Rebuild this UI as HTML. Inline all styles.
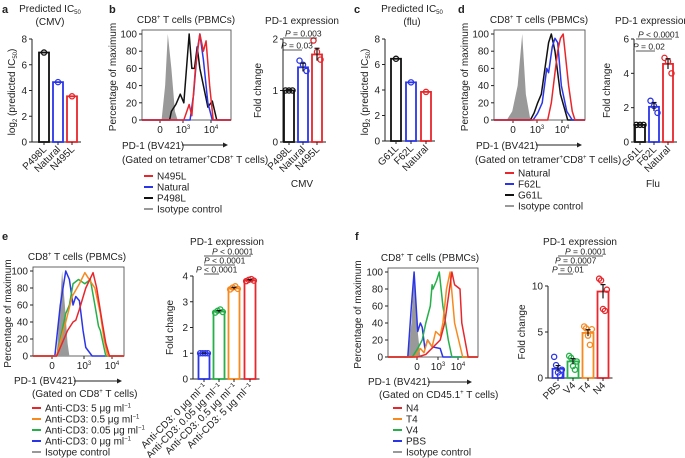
<!DOCTYPE html>
<html><head><meta charset="utf-8">
<style>
html,body{margin:0;padding:0;background:#fff;}
svg{display:block;font-family:"Liberation Sans",Arial,sans-serif;}
text{fill:#222;}
</style></head>
<body>
<svg id="fig" width="685" height="458" viewBox="0 0 685 458" xmlns="http://www.w3.org/2000/svg">
<g font-size="10">
  <text x="2" y="13" font-weight="bold" font-size="11">a</text>
  <text x="109" y="13" font-weight="bold" font-size="11">b</text>
  <text x="354" y="13" font-weight="bold" font-size="11">c</text>
  <text x="458" y="13" font-weight="bold" font-size="11">d</text>
  <text x="2" y="240" font-weight="bold" font-size="11">e</text>
  <text x="355" y="240" font-weight="bold" font-size="11">f</text>

  <text x="50" y="12" text-anchor="middle">Predicted IC<tspan font-size="6" dy="2">50</tspan></text>
  <text x="50" y="25" text-anchor="middle">(CMV)</text>
  <text x="412" y="12" text-anchor="middle">Predicted IC<tspan font-size="6" dy="2">50</tspan></text>
  <text x="412" y="25" text-anchor="middle">(flu)</text>
  <text transform="translate(15,92) rotate(-90)" text-anchor="middle">log<tspan font-size="6" dy="2">2</tspan><tspan dy="-2"> (predicted IC</tspan><tspan font-size="6" dy="2">50</tspan><tspan dy="-2">)</tspan></text>
  <text transform="translate(368,92) rotate(-90)" text-anchor="middle">log<tspan font-size="6" dy="2">2</tspan><tspan dy="-2"> (predicted IC</tspan><tspan font-size="6" dy="2">50</tspan><tspan dy="-2">)</tspan></text>

  <text x="186" y="23" text-anchor="middle">CD8<tspan font-size="6" dy="-4">+</tspan><tspan dy="4"> T cells (PBMCs)</tspan></text>
  <text x="539" y="23" text-anchor="middle">CD8<tspan font-size="6" dy="-4">+</tspan><tspan dy="4"> T cells (PBMCs)</tspan></text>
  <text x="77" y="260" text-anchor="middle">CD8<tspan font-size="6" dy="-4">+</tspan><tspan dy="4"> T cells (PBMCs)</tspan></text>
  <text x="430" y="261" text-anchor="middle">CD8<tspan font-size="6" dy="-4">+</tspan><tspan dy="4"> T cells (PBMCs)</tspan></text>

  <text x="302" y="24" text-anchor="middle">PD-1 expression</text>
  <text x="652" y="24" text-anchor="middle">PD-1 expression</text>
  <text x="227" y="245" text-anchor="middle">PD-1 expression</text>
  <text x="580" y="245" text-anchor="middle">PD-1 expression</text>

  <text x="302" y="187" text-anchor="middle">CMV</text>
  <text x="653" y="187" text-anchor="middle">Flu</text>

  <text x="122" y="149">PD-1 (BV421)</text>
  <text x="122" y="163">(Gated on tetramer<tspan font-size="6" dy="-4">+</tspan><tspan dy="4">CD8</tspan><tspan font-size="6" dy="-4">+</tspan><tspan dy="4"> T cells)</tspan></text>
  <text x="476" y="149">PD-1 (BV421)</text>
  <text x="475" y="163">(Gated on tetramer<tspan font-size="6" dy="-4">+</tspan><tspan dy="4">CD8</tspan><tspan font-size="6" dy="-4">+</tspan><tspan dy="4"> T cells)</tspan></text>
  <text x="14" y="384">PD-1 (BV421)</text>
  <text x="32" y="397">(Gated on CD8<tspan font-size="6" dy="-4">+</tspan><tspan dy="4"> T cells)</tspan></text>
  <text x="368" y="385">PD-1 (BV421)</text>
  <text x="379" y="398">(Gated on CD45.1<tspan font-size="6" dy="-4">+</tspan><tspan dy="4"> T cells)</tspan></text>
</g>
<g id="dyn"></g>
</svg>
<script>
// ---------- data ----------
const icCatsA = ["P498L","Natural","N495L"];
const icValsA = [6.95, 4.65, 3.55];
const icCatsC = ["G61L","F62L","Natural"];
const icValsC = [6.45, 4.6, 3.85];
const icTicks = [0,2,4,6,8];

const fcCatsB = ["P498L","Natural","N495L"];
const fcValsB = [1.0, 1.45, 1.7];
const fcDotsB = [[1,1,1],[1.58,1.5,1.38],[1.97,1.75,1.6]];
const fcErrB = [0.02, 0.08, 0.12];
const fcTicksB = [0,1,2];

const fcCatsD = ["G61L","F62L","Natural"];
const fcValsD = [1.0, 2.05, 4.55];
const fcDotsD = [[1,1,1],[2.4,2.1,1.7],[4.9,4.7,4.0]];
const fcErrD = [0.03, 0.25, 0.3];
const fcTicksD = [0,2,4,6];

const fcCatsE = ["Anti-CD3: 0 \u03bcg ml\u207b\u00b9","Anti-CD3: 0.05 \u03bcg ml\u207b\u00b9","Anti-CD3: 0.5 \u03bcg ml\u207b\u00b9","Anti-CD3: 5 \u03bcg ml\u207b\u00b9"];
const fcValsE = [1.0, 2.62, 3.52, 3.83];
const fcDotsE = [[1,1,1,1],[2.58,2.65,2.7,2.6],[3.48,3.55,3.6,3.5],[3.8,3.85,3.88,3.82]];
const fcErrE = [0.01, 0.04, 0.04, 0.03];
const fcTicksE = [0,1,2,3,4];

const fcCatsF = ["PBS","V4","T4","N4"];
const fcValsF = [1.0, 1.8, 4.9, 9.4];
const fcDotsF = [[2.3,1.4,0.6,0.3,0.9],[2.4,2.2,1.3,0.9,1.8],[5.6,5.4,4.6,3.6,5.3],[10.8,10.6,7.5,7.3,9.6]];
const fcErrF = [0.35, 0.3, 0.35, 0.75];
const fcTicksF = [0,5,10];

const pctTicks = [0,20,40,60,80,100];

// histogram series: channel (0-100 display scale) and percent of max
const bIsoT = [22,26,29,33,37,40];   const bIsoP = [0,40,100,60,10,0];
const bBlkT = [31,33,38,43,47,53,56,59,62,65,71,74,79,84]; const bBlkP = [0,10,18,30,20,100,60,60,85,60,30,15,22,0];
const bBluT = [54,58,62,65,69,74,79]; const bBluP = [0,30,80,100,70,20,0];
const bRedT = [47,53,56,60,65,69,72,76,80]; const bRedP = [0,18,5,60,100,80,92,40,0];

const dIsoT = [14,20,26,31,35,40]; const dIsoP = [0,10,40,100,30,0];
const dBlkT = [40,44,48,52,56,60,63,67,73,81]; const dBlkP = [0,8,20,30,60,90,100,80,30,0];
const dBluT = [43,48,53,58,60,64,67,70,74,80,86]; const dBluP = [0,8,20,60,55,85,95,90,40,10,0];
const dRedT = [59,63,67,70,73,76,79,82,86,89]; const dRedP = [0,20,55,80,95,100,70,40,10,0];

const eIsoT = [26,29,32,35,38,40]; const eIsoP = [0,50,100,60,15,0];
const eBluT = [24,30,36,40,44,47,51,55,58,65]; const eBluP = [0,60,100,90,60,70,65,30,10,0];
const eGrnT = [26,32,36,40,44,50,57,63,68,72,74,80]; const eGrnP = [0,30,50,60,85,90,85,90,60,35,30,0];
const eOrgT = [26,32,36,43,51,57,63,68,74,78,82]; const eOrgP = [0,25,40,70,85,98,88,80,50,20,0];
const eRedT = [26,34,38,44,47,51,58,66,70,76,80,84]; const eRedP = [0,20,30,40,42,55,80,98,80,40,15,0];

const fIsoT = [22,26,29,32,36]; const fIsoP = [0,40,100,40,0];
const fBluT = [22,26,29,33,36,38,41,44,49,58,61]; const fBluP = [0,60,100,30,40,35,10,20,12,10,0];
const fGrnT = [27,33,38,42,47,49,50,54,57,61,67,71]; const fGrnP = [0,10,20,40,60,85,80,90,100,60,20,0];
const fOrgT = [30,36,40,44,49,53,58,61,65,69,74,83]; const fOrgP = [0,10,5,20,12,30,25,40,80,100,40,0];
const fRedT = [33,42,58,63,71,74,80,82,89]; const fRedP = [0,3,20,40,100,85,80,40,0];

const RED="#e8262b", BLUE="#2b35e8", BLACK="#111", GREEN="#26b04a", ORANGE="#f7891f", GRAY="#999";
const NS="http://www.w3.org/2000/svg";
const root=document.getElementById('dyn');
function mk(tag,attrs,parent){const e=document.createElementNS(NS,tag);for(const k in attrs)e.setAttribute(k,attrs[k]);(parent||root).appendChild(e);return e;}

// ---------- bar chart ----------
function barChart(o){
  const g=mk('g',{});
  
  
  const ys=v=>o.y0-(o.y0-o.yTop)*v/o.vmax;
  const ax=mk('line',{x1:o.ax,y1:ys(o.ticks[o.ticks.length-1]),x2:o.ax,y2:o.y0,stroke:'#222','stroke-width':1},g);
  
  
  const xa=mk('line',{x1:o.ax,y1:o.y0,x2:o.xs[o.xs.length-1]+o.w/2+4,y2:o.y0,stroke:'#222','stroke-width':1},g);
  
  
  o.ticks.forEach(t=>{
    mk('line',{x1:o.ax-3,x2:o.ax,y1:ys(t),y2:ys(t),stroke:'#222'},g);
    const tx=mk('text',{x:o.ax-5,y:ys(t)+3.5,'text-anchor':'end','font-size':10},g);
    tx.textContent=t;
    
    
  });
  o.vals.forEach((v,i)=>{
    const cx=o.xs[i];
    const r=mk('rect',{x:cx-o.w/2,y:ys(v),width:o.w,height:o.y0-ys(v),fill:'none',stroke:o.colors[i],'stroke-width':1.8},g);
    
    
    mk('line',{x1:cx,x2:cx,y1:o.y0+0,y2:o.y0+3,stroke:'#222'},g);
    if(o.dots){
      o.dots[i].forEach((d,j)=>{
        const n=o.dots[i].length;
        const dx=n>1?(j-(n-1)/2)*(o.w*0.7/(n-1||1)):0;
        const c=mk('circle',{cx:cx+dx,cy:ys(d),r:2.6,fill:'none',stroke:o.colors[i],'stroke-width':1.3},g);
        
        
      });
      const e=o.errs[i];
      mk('line',{x1:cx,x2:cx,y1:ys(v+e),y2:ys(v-e),stroke:'#111','stroke-width':1.2},g);
      mk('line',{x1:cx-2.5,x2:cx+2.5,y1:ys(v+e),y2:ys(v+e),stroke:'#111','stroke-width':1.2},g);
    } else {
      const c=mk('circle',{cx:cx,cy:ys(v),r:2.6,fill:'none',stroke:o.colors[i],'stroke-width':1.3},g);
      
      
    }
    const lt=mk('text',{transform:`translate(${cx+3},${o.y0+8}) rotate(-45)`,'text-anchor':'end','font-size':10},g);
    lt.textContent=o.cats[i];
    
    
  });
  if(o.ytitle){
    const yt=mk('text',{transform:`translate(${o.ytx},${(o.y0+ys(o.ticks[o.ticks.length-1]))/2}) rotate(-90)`,'text-anchor':'middle','font-size':10},g);
    yt.textContent=o.ytitle;
    
    
  }
  (o.sig||[]).forEach(s=>{
    const l=mk('line',{x1:s.x1,x2:s.x2,y1:s.y,y2:s.y,stroke:'#222','stroke-width':0.8},g);
    
    
    const t=mk('text',{x:s.tx,y:s.y-1.5,'font-size':8.5},g);
    t.innerHTML='<tspan font-style="italic">P</tspan> '+s.txt;
    
    
  });
}

barChart({name:'panel-a-bar-chart',ax:32,y0:142,yTop:39,vmax:8,ticks:icTicks,cats:icCatsA,vals:icValsA,xs:[44,58,72],w:10,colors:[BLACK,BLUE,RED]});
barChart({name:'panel-c-bar-chart',ax:385,y0:141,yTop:39,vmax:8,ticks:icTicks,cats:icCatsC,vals:icValsC,xs:[396,411,426],w:10,colors:[BLACK,BLUE,RED]});
barChart({name:'panel-b-bar-chart',ax:283,y0:142,yTop:39,vmax:2,ticks:fcTicksB,cats:fcCatsB,vals:fcValsB,dots:fcDotsB,errs:fcErrB,xs:[289,303,317],w:10,colors:[BLACK,BLUE,RED],ytitle:'Fold change',ytx:261,
  sig:[{x1:283,x2:317,y:38,tx:285,txt:'= 0.003'},{x1:283,x2:302,y:50,tx:281,txt:'= 0.03'}]});
barChart({name:'panel-d-bar-chart',ax:634,y0:142,yTop:39,vmax:6,ticks:fcTicksD,cats:fcCatsD,vals:fcValsD,dots:fcDotsD,errs:fcErrD,xs:[640,654,668],w:10,colors:[BLACK,BLUE,RED],ytitle:'Fold change',ytx:610,
  sig:[{x1:636,x2:672,y:39,tx:638,txt:'< 0.0001'},{x1:636,x2:655,y:51,tx:633,txt:'= 0.02'}]});
barChart({name:'panel-e-bar-chart',ax:193,y0:379,yTop:276,vmax:4,ticks:fcTicksE,cats:fcCatsE,vals:fcValsE,dots:fcDotsE,errs:fcErrE,xs:[204,219,234,250],w:11,colors:[BLUE,GREEN,ORANGE,RED],ytitle:'Fold change',ytx:173,
  sig:[{x1:204,x2:251,y:256,tx:212,txt:'< 0.0001'},{x1:204,x2:235,y:265,tx:204,txt:'< 0.0001'},{x1:204,x2:219,y:274,tx:196,txt:'< 0.0001'}]});
barChart({name:'panel-f-bar-chart',ax:548,y0:378,yTop:286,vmax:10,ticks:fcTicksF,cats:fcCatsF,vals:fcValsF,dots:fcDotsF,errs:fcErrF,xs:[558,573,588,603],w:11,colors:[BLUE,GREEN,ORANGE,RED],ytitle:'Fold change',ytx:525,
  sig:[{x1:558,x2:603,y:256,tx:565,txt:'= 0.0001'},{x1:558,x2:588,y:265,tx:555,txt:'= 0.0007'},{x1:558,x2:573,y:274,tx:552,txt:'= 0.01'}]});

// ---------- histograms ----------
function hist(o){
  const g=mk('g',{});
  
  
  const xs=t=>o.x0+(o.x1-o.x0)*t/100;
  const ys=p=>o.yb-(o.yb-o.y100)*p/100;
  const box=mk('rect',{x:o.x0,y:o.top,width:o.x1-o.x0,height:o.yb-o.top,fill:'none',stroke:'#555','stroke-width':0.9},g);
  
  
  pctTicks.forEach(t=>{
    mk('line',{x1:o.x0-3,x2:o.x0,y1:ys(t),y2:ys(t),stroke:'#222'},g);
    const tx=mk('text',{x:o.x0-5,y:ys(t)+3.5,'text-anchor':'end','font-size':10},g);
    tx.textContent=t;
    
    
  });
  o.xt.forEach((x,i)=>{
    mk('line',{x1:x,x2:x,y1:o.yb,y2:o.yb+3,stroke:'#222'},g);
    const tx=mk('text',{x:x,y:o.yb+13,'text-anchor':'middle','font-size':10},g);
    tx.innerHTML=['0','10<tspan font-size="6" dy="-4">3</tspan>','10<tspan font-size="6" dy="-4">4</tspan>'][i];
    
    
  });
  const yt=mk('text',{transform:`translate(${o.ytx},${(o.yb+o.y100)/2}) rotate(-90)`,'text-anchor':'middle','font-size':10},g);
  yt.textContent='Percentage of maximum';
  
  
  // isotype fill
  let d=`M${xs(o.iso[0][0])},${ys(0)}`;
  o.iso[0].forEach((t,i)=>{d+=` L${xs(t)},${ys(o.iso[1][i])}`;});
  d+=' Z';
  const iso=mk('path',{d:d,fill:GRAY,stroke:'none'},g);
  
  
  o.series.forEach(s=>{
    let p=`M${xs(0)},${ys(0)}`;
    s.t.forEach((t,i)=>{p+=` L${xs(t)},${ys(s.p[i])}`;});
    p+=` L${xs(100)},${ys(0)}`;
    const l=mk('path',{d:p,fill:'none',stroke:s.c,'stroke-width':1.5,'stroke-linejoin':'round'},g);
    
    
  });
  // arrow
  const a=mk('line',{x1:o.ar[0],x2:o.ar[1],y1:o.ar[2],y2:o.ar[2],stroke:'#222','stroke-width':1},g);
  
  
  mk('path',{d:`M${o.ar[1]+1},${o.ar[2]} l-5,-2.5 l0,5 Z`,fill:'#222'},g);
  // legend
  o.legend.forEach((L,i)=>{
    const y=o.ly+i*o.ls;
    const ll=mk('line',{x1:o.lx,x2:o.lx+9,y1:y,y2:y,stroke:L[1],'stroke-width':2},g);
    
    
    const lt=mk('text',{x:o.lx+13,y:y+3.5,'font-size':10},g);
    lt.innerHTML=L[0];
    
    
  });
}
const mu='Anti-CD3: ';
const ml=' \u03bcg ml<tspan font-size="6" dy="-4">\u22121</tspan>';
hist({name:'panel-b-histogram',x0:142,x1:231,top:30,y100:34,yb:120,ytx:116,xt:[160,183,211],
  iso:[bIsoT,bIsoP],series:[{t:bBlkT,p:bBlkP,c:BLACK,n:'p498l'},{t:bBluT,p:bBluP,c:BLUE,n:'natural'},{t:bRedT,p:bRedP,c:RED,n:'n495l'}],
  ar:[182,227,145],legend:[['N495L',RED],['Natural',BLUE],['P498L',BLACK],['Isotype control',GRAY]],lx:144,ly:176,ls:11});
hist({name:'panel-d-histogram',x0:494,x1:585,top:30,y100:34,yb:120,ytx:468,xt:[513,537,562],
  iso:[dIsoT,dIsoP],series:[{t:dBlkT,p:dBlkP,c:BLACK,n:'g61l'},{t:dBluT,p:dBluP,c:BLUE,n:'f62l'},{t:dRedT,p:dRedP,c:RED,n:'natural'}],
  ar:[536,581,145],legend:[['Natural',RED],['F62L',BLUE],['G61L',BLACK],['Isotype control',GRAY]],lx:505,ly:173,ls:11});
hist({name:'panel-e-histogram',x0:33,x1:124,top:267,y100:271,yb:356,ytx:11,xt:[52,84,112],
  iso:[eIsoT,eIsoP],series:[{t:eBluT,p:eBluP,c:BLUE,n:'anti-cd3-0'},{t:eGrnT,p:eGrnP,c:GREEN,n:'anti-cd3-0.05'},{t:eOrgT,p:eOrgP,c:ORANGE,n:'anti-cd3-0.5'},{t:eRedT,p:eRedP,c:RED,n:'anti-cd3-5'}],
  ar:[74,121,381],legend:[[mu+'5'+ml,RED],[mu+'0.5'+ml,ORANGE],[mu+'0.05'+ml,GREEN],[mu+'0'+ml,BLUE],['Isotype control',GRAY]],lx:32,ly:408,ls:11});
hist({name:'panel-f-histogram',x0:388,x1:478,top:268,y100:272,yb:357,ytx:361,xt:[417,438,458],
  iso:[fIsoT,fIsoP],series:[{t:fBluT,p:fBluP,c:BLUE,n:'pbs'},{t:fGrnT,p:fGrnP,c:GREEN,n:'v4'},{t:fOrgT,p:fOrgP,c:ORANGE,n:'t4'},{t:fRedT,p:fRedP,c:RED,n:'n4'}],
  ar:[428,471,382],legend:[['N4',RED],['T4',ORANGE],['V4',GREEN],['PBS',BLUE],['Isotype control',GRAY]],lx:393,ly:408,ls:11});
</script>
</body></html>
